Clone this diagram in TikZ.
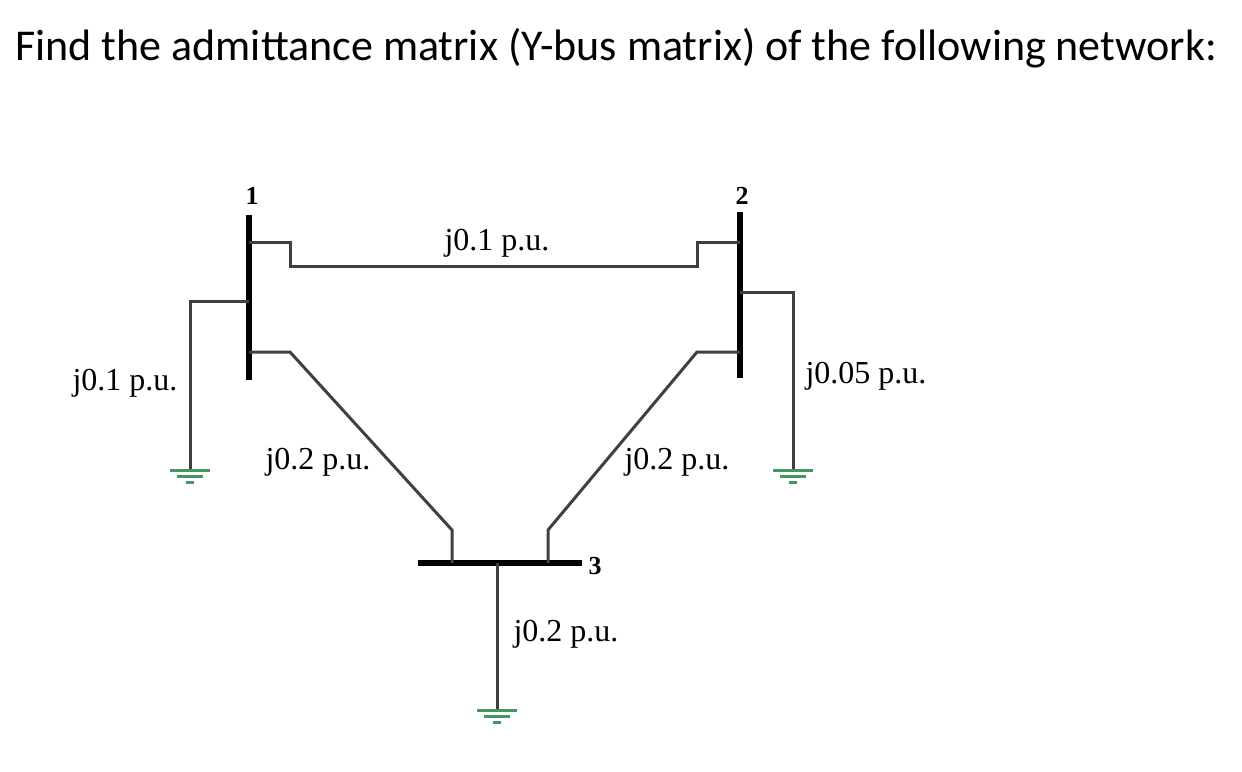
\documentclass[tikz,border=0pt]{standalone}
\usepackage{fontspec}
\setmainfont{Liberation Serif}
\newfontfamily\titlefont{Carlito}
\definecolor{gndgreen}{RGB}{70,150,100}
\tikzset{
  wire/.style={draw=black!75, line width=3pt},
  busbar/.style={draw=black, line width=6.5pt},
  lbl/.style={font=\fontsize{32}{34}\selectfont, inner sep=1pt},
  busnum/.style={font=\bfseries\fontsize{26}{28}\selectfont, inner sep=1pt},
  gnd/.pic={
    \draw[gndgreen, line width=3pt] (-20,0) -- (20,0);
    \draw[gndgreen, line width=3pt] (-13,6) -- (13,6);
    \draw[gndgreen, line width=3pt] (-4,12) -- (4,12);
  }
}
\begin{document}
\begin{tikzpicture}[x=1pt,y=-1pt]
\useasboundingbox (0,0) rectangle (1242,771);
\node[anchor=west, font=\titlefont\fontsize{44}{48}\selectfont] (title) at (12,48) {Find the admittance matrix (Y-bus matrix) of the following network:};
% buses
\coordinate (b1t) at (249,215); \coordinate (b1b) at (249,380);
\coordinate (b2t) at (740,212); \coordinate (b2b) at (740,378);
\coordinate (b3l) at (418,563); \coordinate (b3r) at (582,563);
\draw[busbar] (b1t) -- (b1b);
\draw[busbar] (b2t) -- (b2b);
\draw[busbar] (b3l) -- (b3r);
\node[busnum] (n1) at (252,196) {1};
\node[busnum] (n2) at (742,196) {2};
\node[busnum] (n3) at (595,566) {3};
% line 1-2
\draw[wire] (249,242) -- (290,242) -- (290,266) -- (697,266) -- (697,242) -- (740,242);
\node[lbl] (z12) at (497,243) {j0.1 p.u.};
% line 1-3
\draw[wire] (249,352) -- (290,352) -- (452,530) -- (452,563);
\node[lbl] (z13) at (318,462) {j0.2 p.u.};
% line 2-3
\draw[wire] (740,352) -- (697,352) -- (548,530) -- (548,563);
\node[lbl] (z23) at (677,462) {j0.2 p.u.};
% shunts
\draw[wire] (249,301) -- (190,301) -- (190,470);
\pic at (190,470) {gnd};
\node[lbl] (z10) at (125,383) {j0.1 p.u.};
\draw[wire] (740,292) -- (793,292) -- (793,470);
\pic at (793,470) {gnd};
\node[lbl] (z20) at (866,376) {j0.05 p.u.};
\draw[wire] (497,563) -- (497,710);
\pic at (497,710) {gnd};
\node[lbl] (z30) at (566,634) {j0.2 p.u.};
\end{tikzpicture}
\end{document}
